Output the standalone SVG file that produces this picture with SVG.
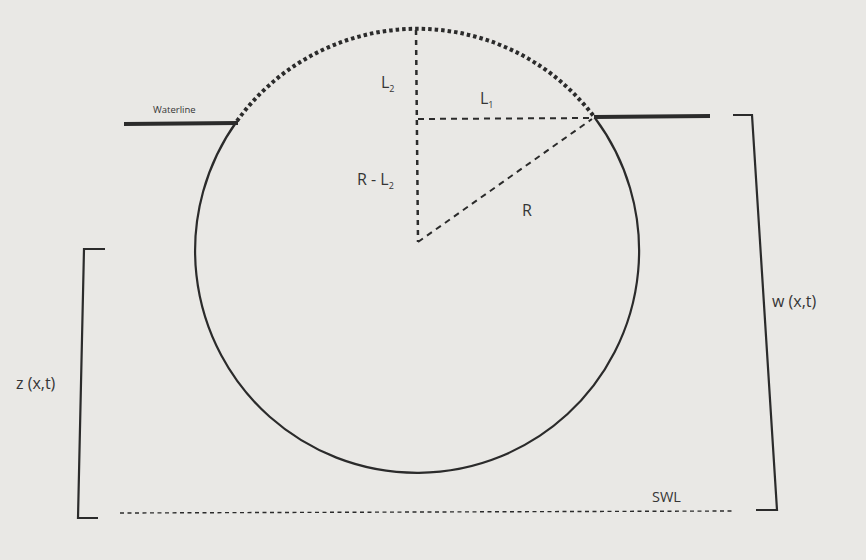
<svg xmlns="http://www.w3.org/2000/svg" width="866" height="560" viewBox="0 0 866 560">
<style>
.ln{fill:none;stroke:#2b2b2b;stroke-linecap:butt}
.t{font-family:"Open Sans","Liberation Sans",sans-serif;fill:#353535}
</style>
<rect width="866" height="560" fill="#e9e8e5"/>
<g id="cylinder">
<path class="ln" d="M 237 121 A 222 222 0 1 0 595 118" stroke-width="2.2"/>
<path class="ln" d="M 237 121 A 222 222 0 0 1 595 118" stroke-width="4" stroke-dasharray="3.5 3"/>
</g>
<g id="waterline">
<line class="ln" x1="124" y1="124" x2="238" y2="123" stroke-width="4"/>
<line class="ln" x1="594" y1="117" x2="710" y2="116" stroke-width="4"/>
<text class="t" x="153" y="113" font-size="9.5">Waterline</text>
</g>
<g id="connectors">
<line class="ln" x1="416" y1="30" x2="418" y2="242" stroke-width="2.5" stroke-dasharray="5 5"/>
<line class="ln" x1="418" y1="119" x2="592" y2="118" stroke-width="2" stroke-dasharray="6 5"/>
<line class="ln" x1="418" y1="242" x2="592" y2="119" stroke-width="2" stroke-dasharray="6 5"/>
<line class="ln" x1="120" y1="513" x2="732" y2="511" stroke-width="1.4" stroke-dasharray="4 3.5"/>
</g>
<g id="labels">
<text class="t" x="381" y="88" font-size="16">L<tspan font-size="9" dy="4">2</tspan></text>
<text class="t" x="480" y="104" font-size="16">L<tspan font-size="9" dy="4">1</tspan></text>
<text class="t" x="357" y="185" font-size="16">R - L<tspan font-size="9" dy="4">2</tspan></text>
<text class="t" x="522" y="216" font-size="16">R</text>
<text class="t" x="652" y="502" font-size="14.5">SWL</text>
</g>
<g id="z-bracket">
<path class="ln" d="M 105 249 L 84 249 L 78 518 L 98 518" stroke-width="2.2"/>
<text class="t" x="16" y="389" font-size="16">z (x,t)</text>
</g>
<g id="w-bracket">
<path class="ln" d="M 733 115 L 752 115 L 777 510 L 756 510" stroke-width="2.2"/>
<text class="t" x="772" y="307" font-size="16">w (x,t)</text>
</g>
</svg>
